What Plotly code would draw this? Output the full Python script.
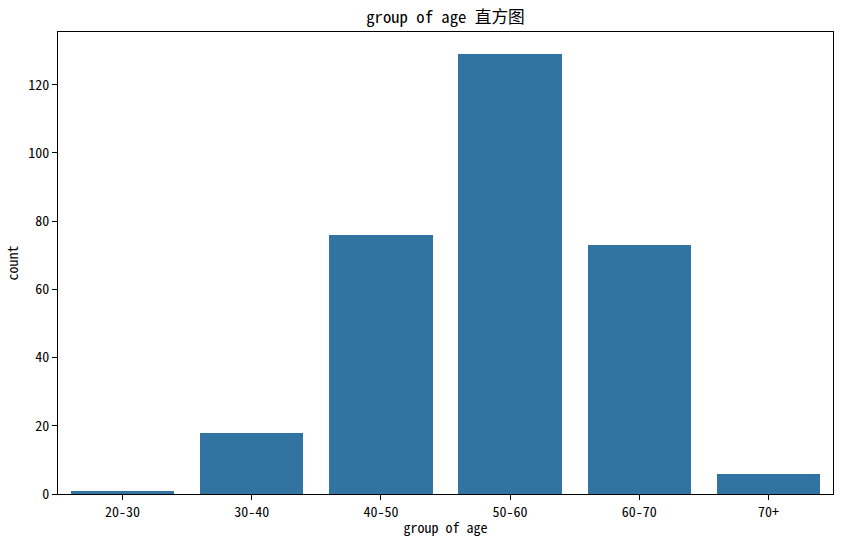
import plotly.graph_objects as go

categories = ["20-30", "30-40", "40-50", "50-60", "60-70", "70+"]
counts = [1, 18, 76, 129, 73, 6]
y_ticks = [0, 20, 40, 60, 80, 100, 120]

FONT = "Noto Sans Mono CJK SC, SimHei, DejaVu Sans Mono, Noto Sans CJK SC, monospace"

fig = go.Figure(
    go.Bar(
        x=list(range(len(categories))),
        y=counts,
        width=0.8,
        marker=dict(color="#3274a1", line=dict(width=0)),
    )
)

axis_common = dict(
    showline=True,
    linecolor="black",
    linewidth=1,
    mirror=True,
    ticks="outside",
    ticklen=5,
    tickwidth=1,
    tickcolor="black",
    showgrid=False,
    zeroline=False,
    automargin=False,
    tickfont=dict(family=FONT, size=14, color="black"),
)

fig.update_layout(
    width=843,
    height=543,
    margin=dict(l=58, r=10, t=32, b=49),
    paper_bgcolor="white",
    plot_bgcolor="white",
    font=dict(family=FONT, size=14, color="black"),
    title=dict(
        text="group of age 直方图",
        x=(58 + (843 - 58 - 10) / 2) / 843,
        xref="container",
        xanchor="center",
        y=1 - 17 / 543,
        yref="container",
        yanchor="middle",
        font=dict(family=FONT, size=16.7, color="black"),
    ),
    xaxis=dict(
        **axis_common,
        range=[-0.5, 5.5],
        tickmode="array",
        tickvals=list(range(len(categories))),
        ticktext=categories,
        title=dict(text="group of age", font=dict(family=FONT, size=14), standoff=3),
    ),
    yaxis=dict(
        **axis_common,
        range=[0, max(counts) * 1.05],
        tickmode="array",
        tickvals=y_ticks,
        title=dict(text="count", font=dict(family=FONT, size=14), standoff=6),
    ),
    showlegend=False,
    bargap=0,
)

fig.write_html("out.html")
